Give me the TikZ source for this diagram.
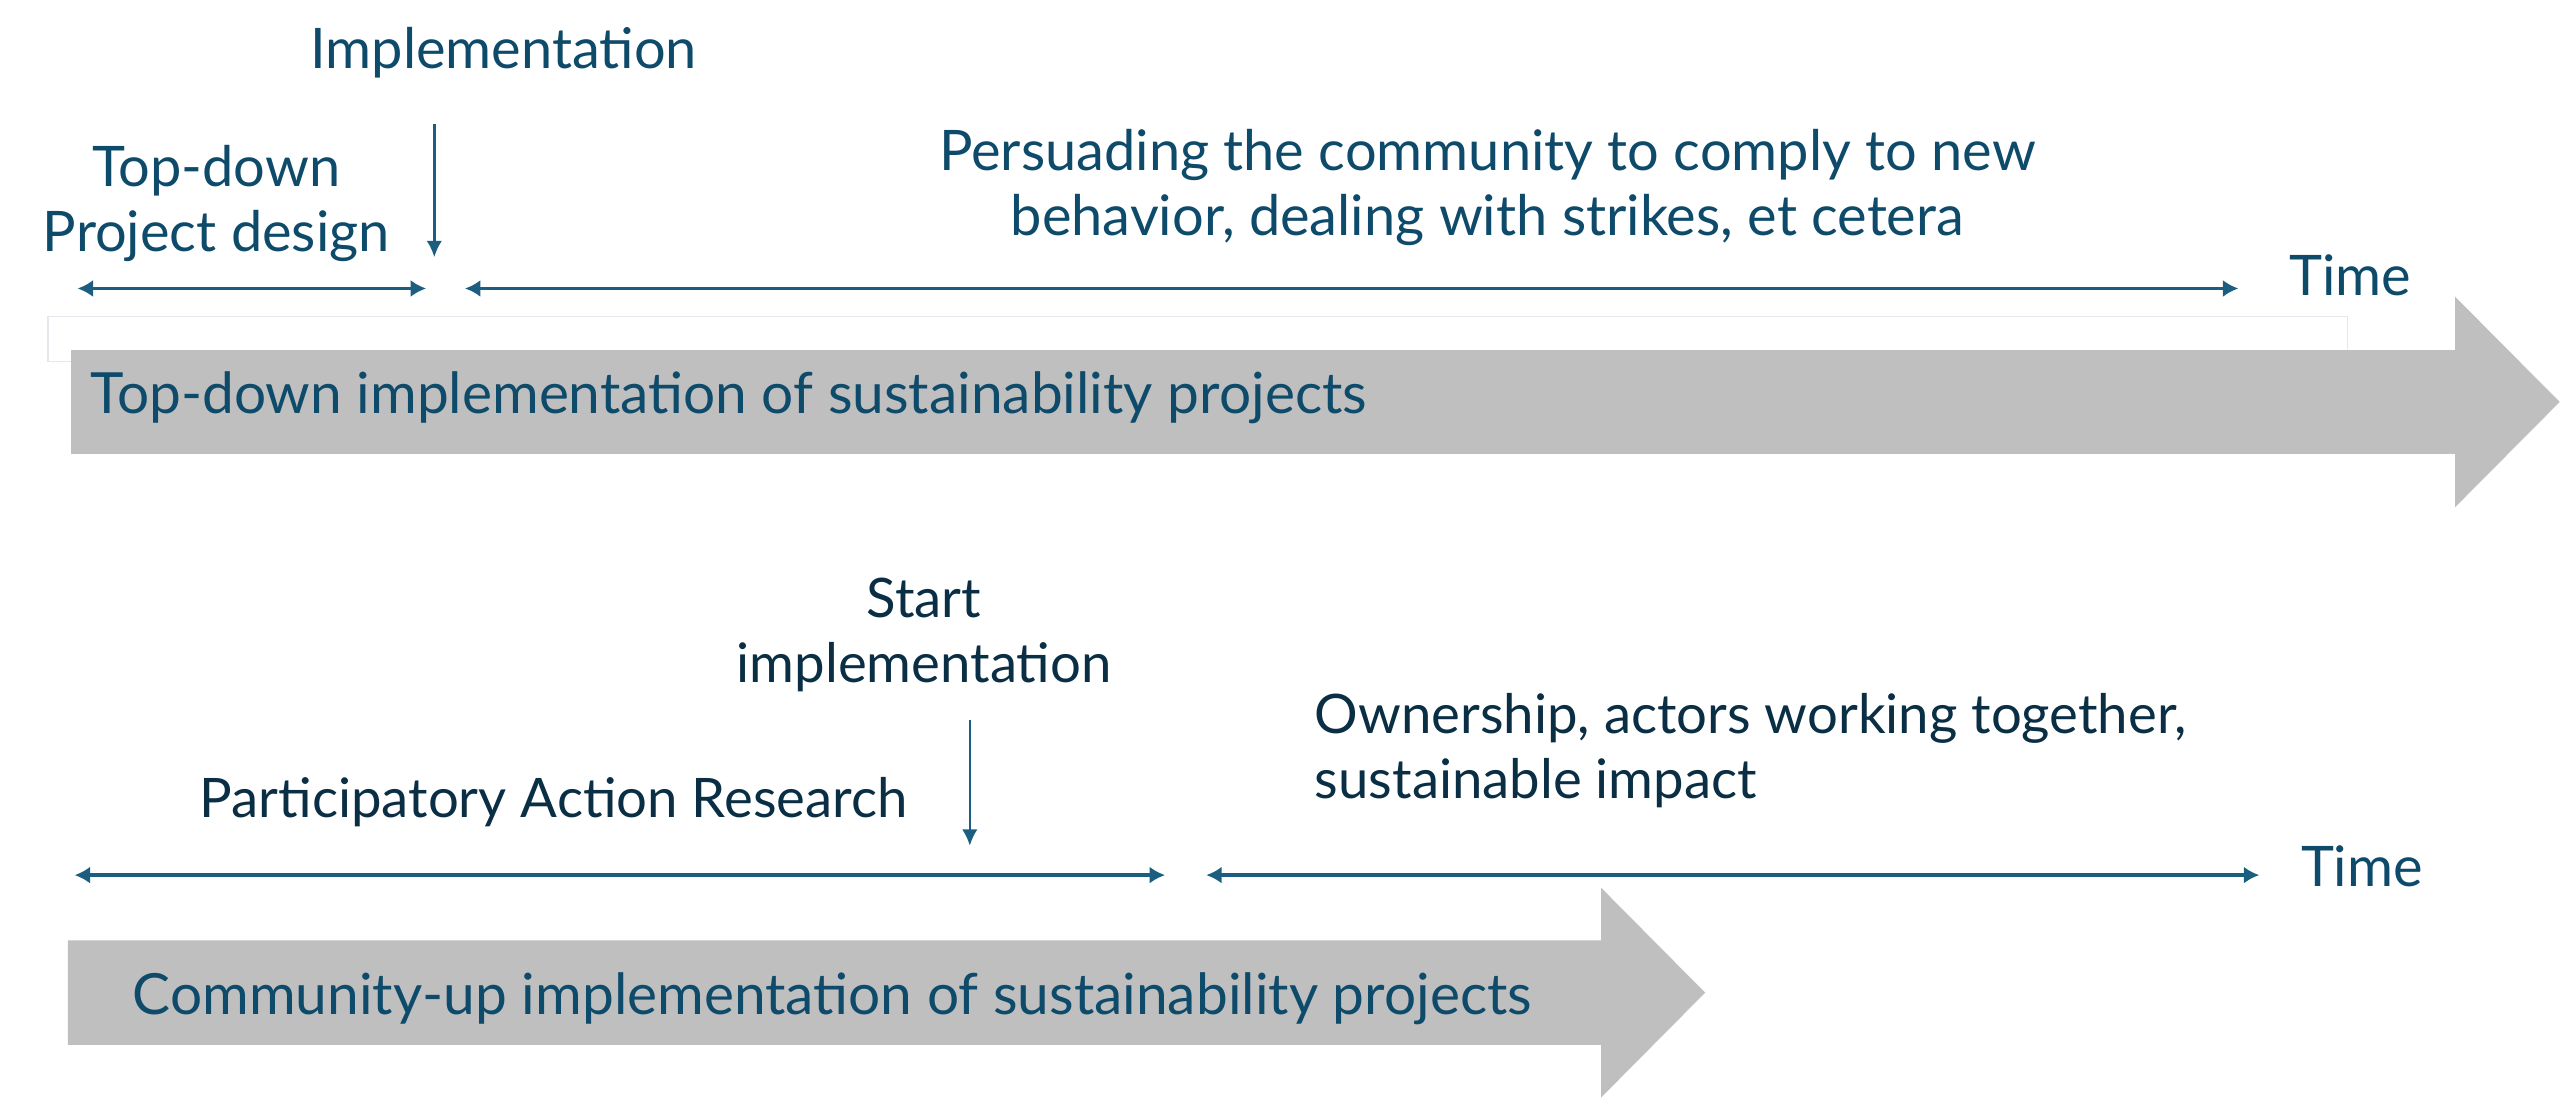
\documentclass[tikz,border=0pt]{standalone}
\usepackage{fontspec}
\setmainfont{Lato}
\usetikzlibrary{arrows.meta}
\definecolor{lineblue}{RGB}{27,94,128}
\definecolor{textblue}{RGB}{14,74,106}
\definecolor{textdark}{RGB}{10,46,68}
\definecolor{barfill}{RGB}{191,191,191}
\definecolor{faintline}{RGB}{228,232,236}
\tikzset{
  label text/.style={inner sep=0pt, text=textblue, font=\fontsize{19.5}{22.5}\selectfont},
  dark text/.style={label text, text=textdark, font=\fontsize{19}{22.5}\selectfont},
  bar text/.style={label text, font=\fontsize{19.8}{22.5}\selectfont},
  time line/.style={lineblue, line width=1.3pt, {Latex[length=1.9mm,width=2.1mm]}-{Latex[length=1.9mm,width=2.1mm]}},
  mark line/.style={lineblue, line width=0.9pt, -{Latex[length=2mm,width=1.9mm]}},
  bar/.style={fill=barfill}
}
\begin{document}
\begin{tikzpicture}[x=0.02cm, y=-0.02cm]
  \useasboundingbox (0,0) rectangle (1568,674.4);
  % top-down timeline
  \draw[faintline, line width=0.4pt] (29.4,194) rectangle (1438,221.5);
  \fill[bar] (43.6,214.4) -- (1503.7,214.4) -- (1503.7,181.7) -- (1567.8,246.2)
    -- (1503.7,310.7) -- (1503.7,278) -- (43.6,278) -- cycle;
  \node[bar text, anchor=base west] (topbar) at (55,253) {Top-down implementation of sustainability projects};
  \node[label text, anchor=base] (impl) at (308.5,42) {Implementation};
  \node[label text, anchor=base, align=center] (design) at (132.5,154) {Top-down\\Project design};
  \node[label text, anchor=base, align=center] (persuade) at (911,144) {Persuading the community to comply to new\\behavior, dealing with strikes, et cetera};
  \node[label text, anchor=base west] (timeA) at (1402,180.7) {Time};
  \coordinate (a1) at (47.5,176.7);
  \coordinate (a2) at (261,176.7);
  \coordinate (a3) at (284.8,176.7);
  \coordinate (a4) at (1371,176.7);
  \coordinate (m1) at (266,76);
  \coordinate (m1e) at (266,157.5);
  \draw[time line] (a1) -- (a2);
  \draw[time line] (a3) -- (a4);
  \draw[mark line] (m1) -- (m1e);
  % community-up timeline
  \fill[bar] (41.6,576) -- (980.6,576) -- (980.6,543.7) -- (1044.4,608)
    -- (980.6,672.3) -- (980.6,640) -- (41.6,640) -- cycle;
  \node[bar text, anchor=base west] (botbar) at (81,621.4) {Community-up implementation of sustainability projects};
  \node[dark text, anchor=base, align=center] (start) at (566,418) {Start\\implementation};
  \node[dark text, anchor=base west] (par) at (122,500.5) {Participatory Action Research};
  \node[dark text, anchor=base west, align=left] (own) at (805,489) {Ownership, actors working together,\\sustainable impact};
  \node[label text, anchor=base west] (timeB) at (1409,542.7) {Time};
  \coordinate (b1) at (45.7,536);
  \coordinate (b2) at (713.6,536);
  \coordinate (b3) at (738.8,536);
  \coordinate (b4) at (1383.8,536);
  \coordinate (m2) at (594,441);
  \coordinate (m2e) at (594,518);
  \draw[time line] (b1) -- (b2);
  \draw[time line] (b3) -- (b4);
  \draw[mark line] (m2) -- (m2e);
\end{tikzpicture}
\end{document}
